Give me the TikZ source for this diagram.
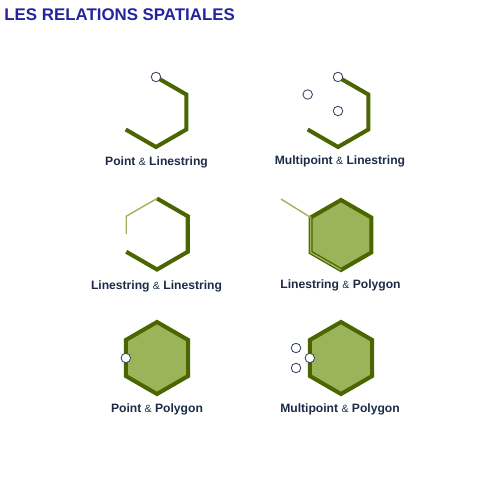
\documentclass[tikz,border=0pt]{standalone}
\usepackage{fontspec}
\setmainfont{Liberation Sans}
\usetikzlibrary{calc}
\definecolor{olivedark}{HTML}{4B6500}
\definecolor{olivelight}{HTML}{9BB45A}
\definecolor{titleblue}{HTML}{2424A0}
\definecolor{labelnavy}{HTML}{1C2B48}
\definecolor{ringgray}{HTML}{3C4A66}
\tikzset{
  ringline/.style={draw=olivedark, line width=2.3pt, line join=miter},
  thinline/.style={draw=olivelight, line width=0.8pt},
  polyfill/.style={fill=olivelight, draw=olivedark, line width=2.3pt},
  pointmark/.style={circle, draw=ringgray, fill=white, line width=0.5pt, minimum size=0.19cm, inner sep=0pt},
  caption/.style={text=labelnavy, font=\fontsize{6.9pt}{8pt}\selectfont\bfseries, inner sep=0pt}
}
% corners of a hexagon, 1 = top, then clockwise
\newcommand\hexcorners[3]{%
  \foreach \k in {1,...,6}{
    \pgfmathsetmacro\ang{90-60*(\k-1)}
    \coordinate (#1-\k) at ($(#2)+(\ang:#3)$);
  }}
\newcommand\amp{{\mdseries\fontsize{6pt}{8pt}\selectfont\&}}
\begin{document}
\begin{tikzpicture}[x=0.02cm, y=0.02cm]
  \useasboundingbox (0,0) rectangle (500,500);

  \node[anchor=west, inner sep=0pt, text=titleblue, font=\fontsize{9.6pt}{11pt}\selectfont\bfseries] (title) at (4,485) {LES RELATIONS SPATIALES};

  \hexcorners{ha}{156,388}{35}
  \hexcorners{hb}{338,388}{35}
  \hexcorners{hc}{157,266}{35.5}
  \hexcorners{hd}{341,265}{35}
  \hexcorners{he}{157,142}{36}
  \hexcorners{hf}{341,142}{36}

  % point & linestring
  \draw[ringline] (ha-1) -- (ha-2) -- (ha-3) -- (ha-4) -- (ha-5);
  \node[pointmark] (pa) at (ha-1) {};

  % multipoint & linestring
  \draw[ringline] (hb-1) -- (hb-2) -- (hb-3) -- (hb-4) -- (hb-5);
  \node[pointmark] (pb1) at (hb-1) {};
  \node[pointmark] (pb2) at (hb-6) {};
  \node[pointmark] (pb3) at (338,389) {};

  % linestring & linestring
  \draw[ringline] (hc-1) -- (hc-2) -- (hc-3) -- (hc-4) -- (hc-5);
  \draw[thinline] (hc-1) -- (hc-6) -- ($(hc-6)!0.5!(hc-5)$);

  % linestring & polygon
  \filldraw[polyfill] (hd-1) -- (hd-2) -- (hd-3) -- (hd-4) -- (hd-5) -- (hd-6) -- cycle;
  \coordinate (lsend) at (281,301);
  \draw[thinline] (lsend) -- (hd-6) -- (hd-5) -- (hd-4);

  % point & polygon
  \filldraw[polyfill] (he-1) -- (he-2) -- (he-3) -- (he-4) -- (he-5) -- (he-6) -- cycle;
  \node[pointmark] (pe) at ($(he-6)!0.5!(he-5)$) {};

  % multipoint & polygon
  \filldraw[polyfill] (hf-1) -- (hf-2) -- (hf-3) -- (hf-4) -- (hf-5) -- (hf-6) -- cycle;
  \node[pointmark] (pf1) at (296,152) {};
  \node[pointmark] (pf2) at (296,132) {};
  \node[pointmark] (pf3) at ($(hf-6)!0.5!(hf-5)$) {};

  \node[caption] (la) at (156.5,338) {Point \amp{} Linestring};
  \node[caption] (lb) at (340,339) {Multipoint \amp{} Linestring};
  \node[caption] (lc) at (156.5,214) {Linestring \amp{} Linestring};
  \node[caption] (ld) at (340.5,215) {Linestring \amp{} Polygon};
  \node[caption] (le) at (157,91) {Point \amp{} Polygon};
  \node[caption] (lf) at (340,91) {Multipoint \amp{} Polygon};
\end{tikzpicture}
\end{document}
